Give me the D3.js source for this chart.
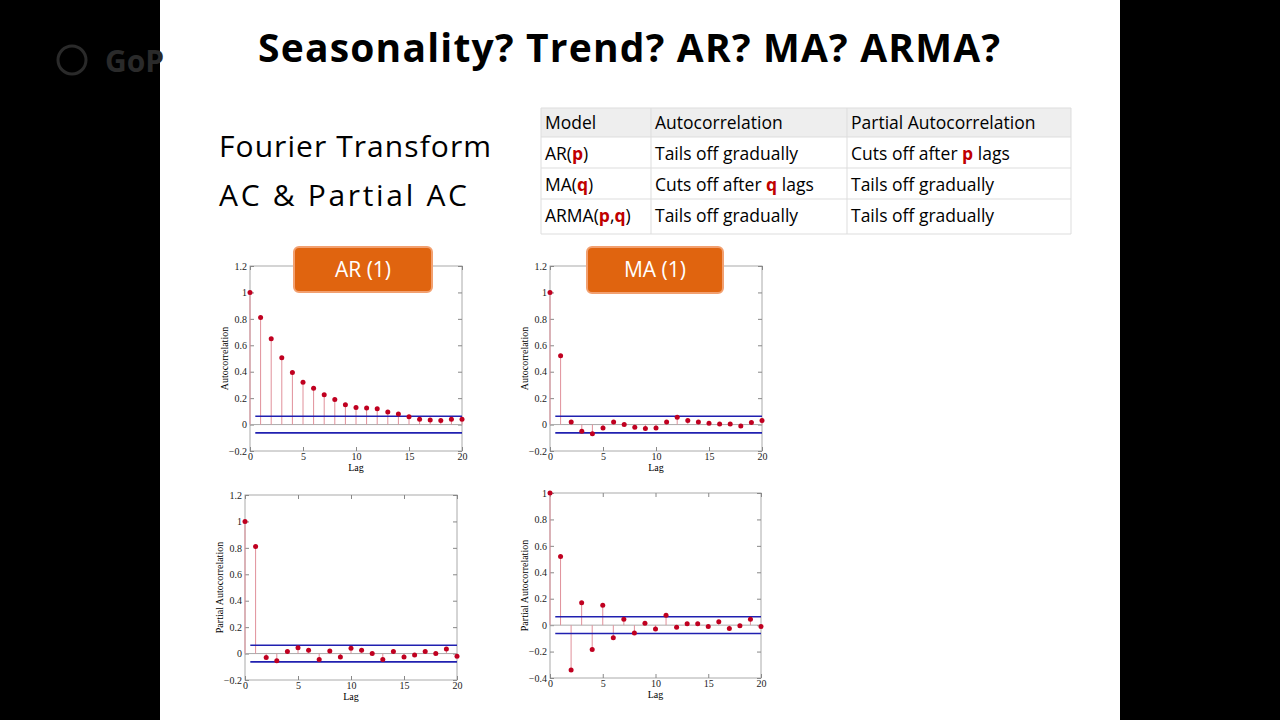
<!DOCTYPE html>
<html><head><meta charset="utf-8">
<script src="https://cdn.jsdelivr.net/npm/d3@7"></script>
<style>body{margin:0;background:#000;overflow:hidden}</style>
</head><body>
<svg id="s" width="1280" height="720"></svg>
<script>
const lags = d3.range(0, 21)
const arAcf = [1, .81, .65, .505, .395, .32, .275, .225, .19, .15, .13, .125, .12, .095, .08, .06, .04, .035, .03, .04, .04]
const maAcf = [1, .52, .02, -.05, -.07, -.025, .02, 0, -.02, -.03, -.025, .02, .055, .03, .02, .01, .005, .005, -.01, .015, .03]
const arPacf = [1, .81, -.03, -.055, .015, .045, .025, -.045, .02, -.025, .04, .025, 0, -.045, .015, -.025, -.01, .015, 0, .035, -.02]
const maPacf = [1, .52, -.34, .17, -.185, .15, -.095, .045, -.06, .015, -.03, .075, -.015, .01, .01, -.01, .025, -.025, -.005, .045, -.01]
const bound = 0.063
const tableHead = ['Model', 'Autocorrelation', 'Partial Autocorrelation']
const tableRows = [
    [['AR(', ['p'], ')'], ['Tails off gradually'], ['Cuts off after ', ['p'], ' lags']],
    [['MA(', ['q'], ')'], ['Cuts off after ', ['q'], ' lags'], ['Tails off gradually']],
    [['ARMA(', ['p'], ',', ['q'], ')'], ['Tails off gradually'], ['Tails off gradually']]
]

const font = "'Open Sans', 'Noto Sans', sans-serif"
const svg = d3.select('#s')
svg.append('rect').attr('x', 160).attr('y', 0).attr('width', 960).attr('height', 720).attr('fill', '#fff')

// faint logo
svg.append('text').attr('x', 105).attr('y', 72).attr('font-family', font).attr('font-weight', 700)
    .attr('font-size', 30).attr('fill', '#2a2a2a').text('GoP')
svg.append('circle').attr('cx', 72).attr('cy', 60).attr('r', 14).attr('fill', 'none').attr('stroke', '#2a2a2a').attr('stroke-width', 3)

svg.append('text').attr('x', 629).attr('y', 62).attr('text-anchor', 'middle').attr('font-family', font)
    .attr('font-weight', 700).attr('font-size', 39).attr('textLength', 742).text('Seasonality? Trend? AR? MA? ARMA?')
svg.append('text').attr('x', 219).attr('y', 157).attr('font-family', font).attr('font-size', 30).attr('textLength', 272).text('Fourier Transform')
svg.append('text').attr('x', 219).attr('y', 206).attr('font-family', font).attr('font-size', 30).attr('textLength', 248).text('AC & Partial AC')

// table
const colX = [541, 651, 847, 1071]
const rowY = [108, 137, 168, 199, 234]
const tg = svg.append('g')
tg.append('rect').attr('x', 541).attr('y', 108).attr('width', 530).attr('height', 29).attr('fill', '#eeeeee')
rowY.forEach(y => tg.append('line').attr('x1', 541).attr('x2', 1071).attr('y1', y).attr('y2', y).attr('stroke', '#ddd'))
colX.forEach(x => tg.append('line').attr('x1', x).attr('x2', x).attr('y1', 108).attr('y2', 234).attr('stroke', '#ddd'))
tableHead.forEach((h, i) => tg.append('text').attr('x', colX[i] + 4).attr('y', 129).attr('font-family', font)
    .attr('font-size', 17.5).text(h))
tableRows.forEach((row, r) => row.forEach((cell, c) => {
    const t = tg.append('text').attr('x', colX[c] + 4).attr('y', rowY[r + 1] + 23).attr('font-family', font).attr('font-size', 17.5)
    cell.forEach(part => {
        if (Array.isArray(part)) t.append('tspan').attr('fill', '#c00000').attr('font-weight', 700).text(part[0])
        else t.append('tspan').text(part)
    })
}))

function stemPlot(vals, box, yDom, yTicks, ylab) {
    const x = d3.scaleLinear().domain([0, 20]).range([box.x0, box.x1])
    const y = d3.scaleLinear().domain(yDom).range([box.y1, box.y0])
    const g = svg.append('g')
    g.append('rect').attr('x', box.x0).attr('y', box.y0).attr('width', box.x1 - box.x0).attr('height', box.y1 - box.y0)
        .attr('fill', 'none').attr('stroke', '#aaa')
    const ax = d3.axisBottom(x).tickValues([0, 5, 10, 15, 20]).tickSize(-4).tickPadding(2)
    const ay = d3.axisLeft(y).tickValues(yTicks).tickSize(-4).tickPadding(3).tickFormat(d => d3.format('~g')(d))
    const axT = d3.axisTop(x).tickValues([0, 5, 10, 15, 20]).tickSize(-4).tickFormat('')
    const ayR = d3.axisRight(y).tickValues(yTicks).tickSize(-4).tickFormat('')
    ;[[ax, `translate(0,${box.y1})`], [ay, `translate(${box.x0},0)`], [axT, `translate(0,${box.y0})`], [ayR, `translate(${box.x1},0)`]]
        .forEach(([a, tr]) => {
            const gg = g.append('g').attr('transform', tr).call(a)
            gg.select('.domain').remove()
            gg.selectAll('line').attr('stroke', '#888')
            gg.selectAll('text').attr('font-family', "'Liberation Serif', serif").attr('font-size', 10).attr('fill', '#222')
        })
    g.append('text').attr('x', (box.x0 + box.x1) / 2).attr('y', box.y1 + 20).attr('text-anchor', 'middle')
        .attr('font-family', "'Liberation Serif', serif").attr('font-size', 10).text('Lag')
    g.append('text').attr('transform', `translate(${box.x0 - 22},${(box.y0 + box.y1) / 2}) rotate(-90)`)
        .attr('text-anchor', 'middle').attr('font-family', "'Liberation Serif', serif").attr('font-size', 10).text(ylab)
    g.append('line').attr('x1', box.x0).attr('x2', box.x1).attr('y1', y(0)).attr('y2', y(0)).attr('stroke', '#aaa')
    g.selectAll('.stem').data(lags).join('line').attr('x1', d => x(d)).attr('x2', d => x(d))
        .attr('y1', y(0)).attr('y2', d => y(vals[d])).attr('stroke', '#e0909a').attr('stroke-width', 1)
    ;[bound, -bound].forEach(b => g.append('line').attr('x1', x(0.5)).attr('x2', x(20)).attr('y1', y(b)).attr('y2', y(b))
        .attr('stroke', '#2020b0').attr('stroke-width', 1.6))
    g.selectAll('.dot').data(lags).join('circle').attr('cx', d => x(d)).attr('cy', d => y(vals[d])).attr('r', 2.5)
        .attr('fill', '#c00020')
}

const acfTicks = [-0.2, 0, 0.2, 0.4, 0.6, 0.8, 1, 1.2]
stemPlot(arAcf, {x0: 250, x1: 462, y0: 266, y1: 451}, [-0.2, 1.2], acfTicks, 'Autocorrelation')
stemPlot(maAcf, {x0: 550, x1: 762, y0: 266, y1: 451}, [-0.2, 1.2], acfTicks, 'Autocorrelation')
stemPlot(arPacf, {x0: 245, x1: 457, y0: 495, y1: 680}, [-0.2, 1.2], acfTicks, 'Partial Autocorrelation')
stemPlot(maPacf, {x0: 550, x1: 761, y0: 493, y1: 678}, [-0.4, 1], [-0.4, -0.2, 0, 0.2, 0.4, 0.6, 0.8, 1], 'Partial Autocorrelation')

// orange labels
;[['AR (1)', 294, 247, 138, 45], ['MA (1)', 587, 247, 136, 46]].forEach(([t, x, y, w, h]) => {
    svg.append('rect').attr('x', x).attr('y', y).attr('width', w).attr('height', h).attr('rx', 5)
        .attr('fill', '#e0640f').attr('stroke', '#f2a070').attr('stroke-width', 2)
    svg.append('text').attr('x', x + w / 2).attr('y', y + h / 2 + 7).attr('text-anchor', 'middle')
        .attr('font-family', font).attr('font-size', 21).attr('fill', '#fff').text(t)
})
</script>
</body></html>
